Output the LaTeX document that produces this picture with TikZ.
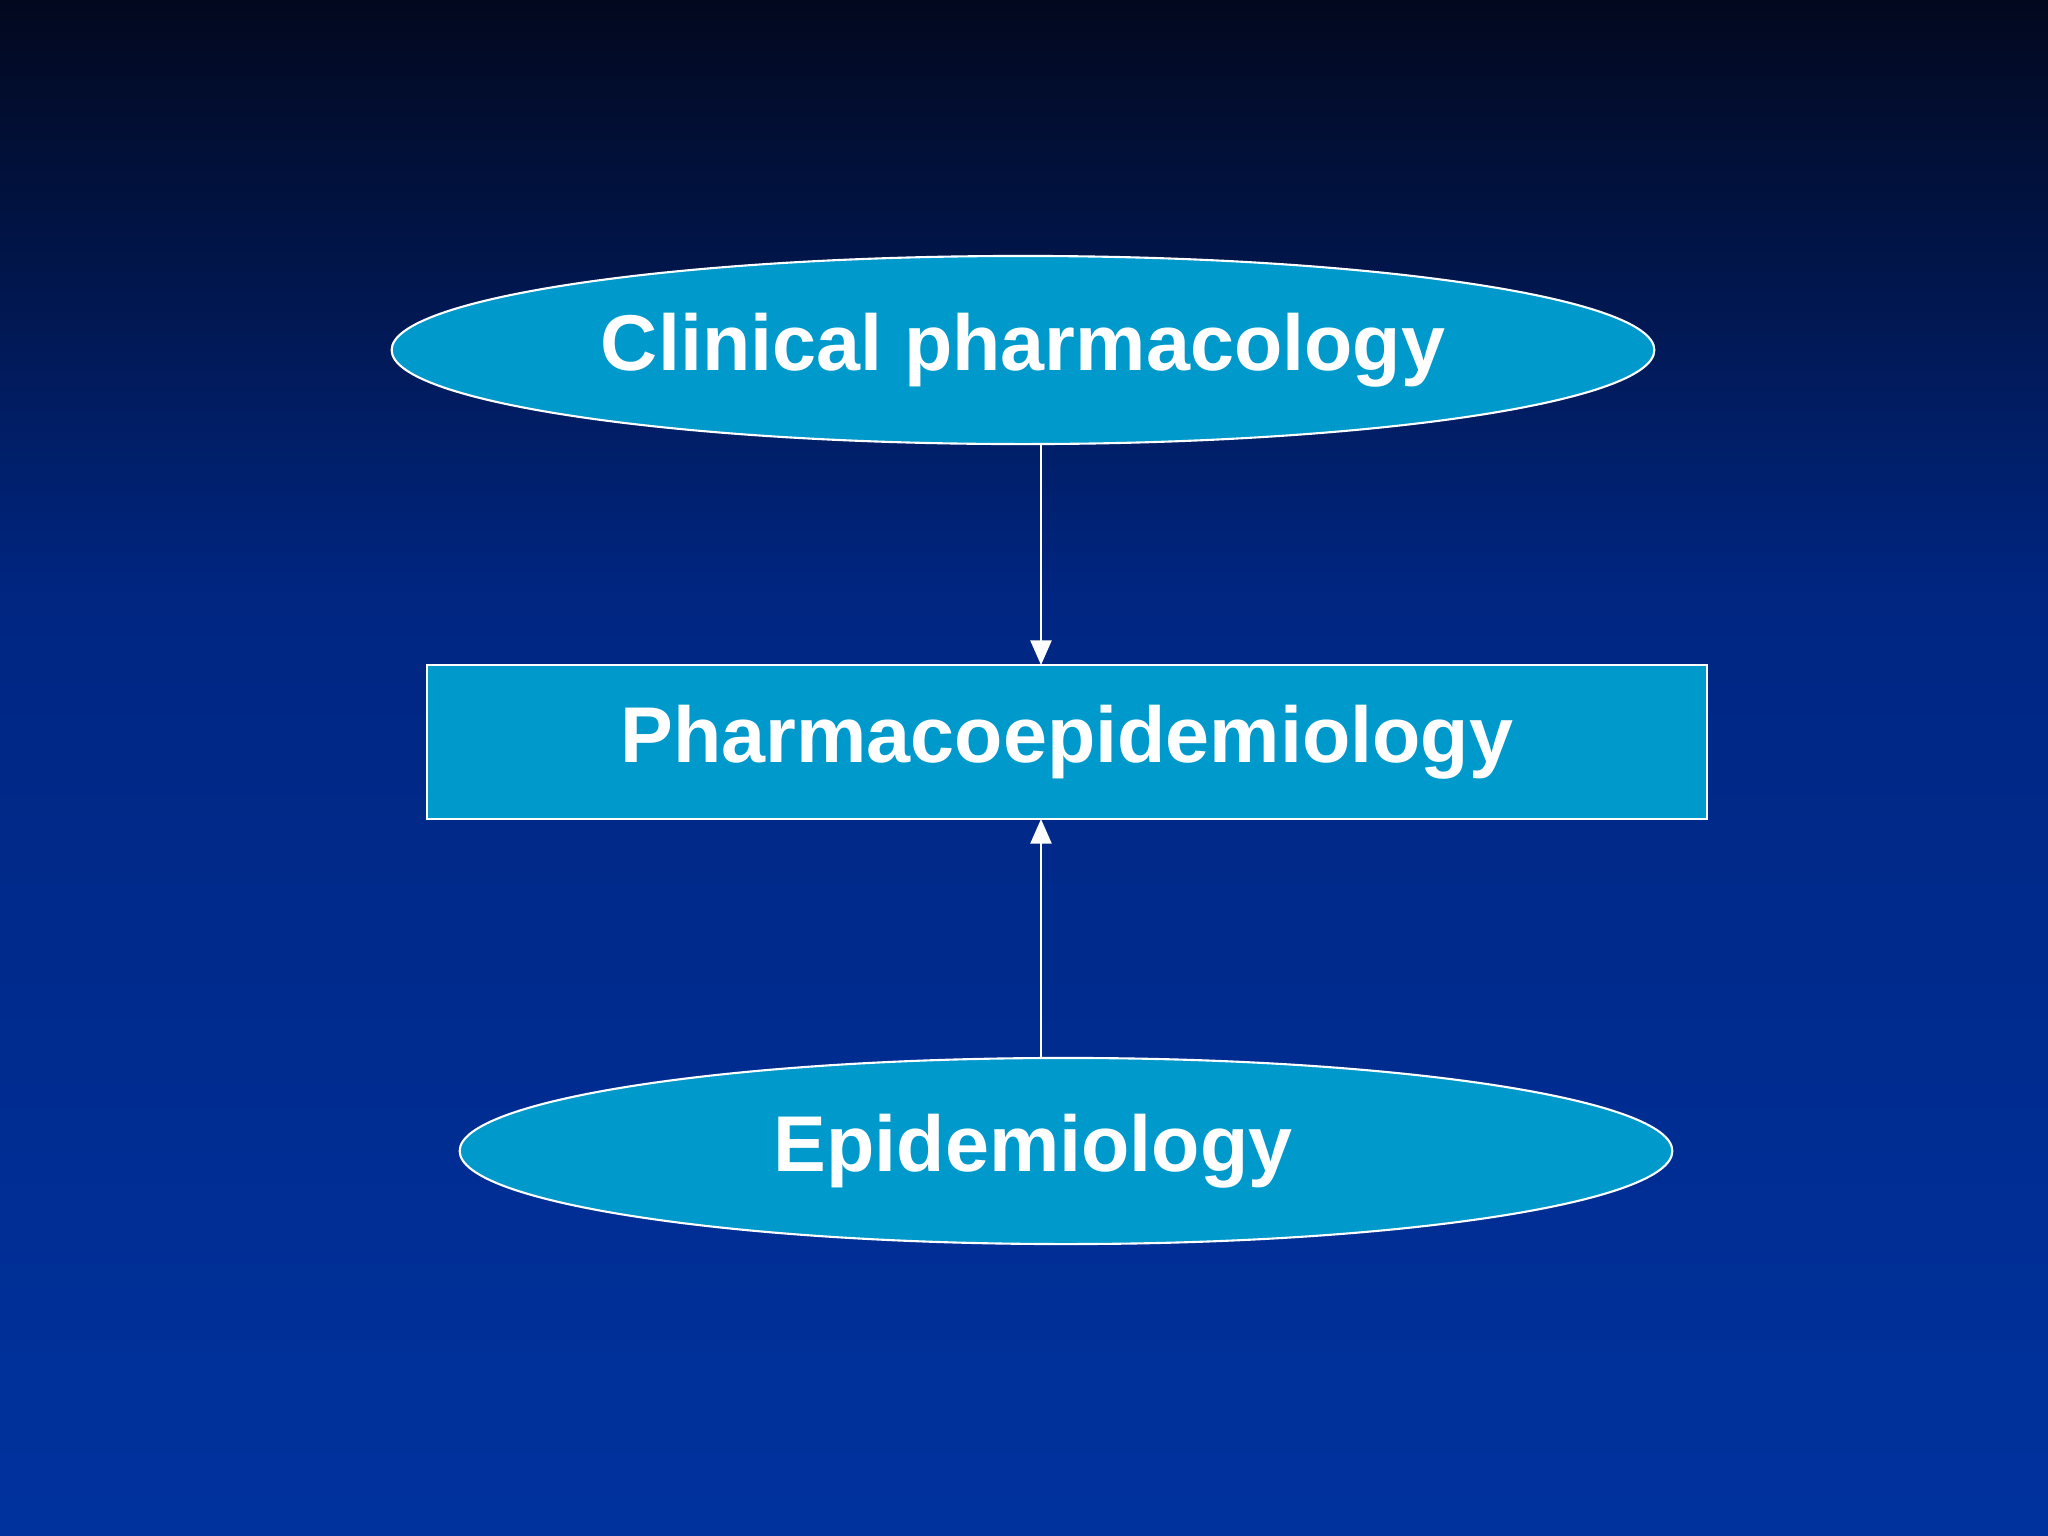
\documentclass[tikz,border=0pt]{standalone}
\usepackage{fontspec}
\setmainfont{Liberation Sans}
\usetikzlibrary{shapes.geometric,arrows.meta}
\definecolor{boxfill}{RGB}{0,153,204}
\definecolor{bgtop}{RGB}{2,8,30}
\definecolor{bgmid}{RGB}{0,38,130}
\definecolor{bgbot}{RGB}{0,50,158}
\tikzset{
  lbl/.style={font=\fontsize{22.5pt}{27pt}\selectfont\bfseries, text=white},
  ell/.style={ellipse, draw=white, line width=0.6pt, fill=boxfill, inner sep=0pt},
  conn/.style={draw=white, line width=0.6pt, -{Triangle[length=7pt,width=6pt]}}
}
\begin{document}
\begin{tikzpicture}[x=0.01cm,y=-0.01cm]
\useasboundingbox (0,0) rectangle (2048,1536);
\shade[top color=bgtop, bottom color=bgmid] (0,0) rectangle (2048,600);
\shade[top color=bgmid, bottom color=bgbot] (0,599) rectangle (2048,1536);
\node[ell, minimum width=1262\pgflinewidth*0+12.62cm, minimum height=1.88cm] (cp) at (1023,350) {};
\node[lbl] at (cp.center) {Clinical pharmacology};
\node[draw=white, line width=0.6pt, fill=boxfill, minimum width=12.8cm, minimum height=1.54cm, inner sep=0pt] (pe) at (1067,742) {};
\node[lbl] at (pe.center) {Pharmacoepidemiology};
\node[ell, minimum width=12.12cm, minimum height=1.86cm] (ep) at (1066,1151) {};
\node[lbl] at (1033,1151) {Epidemiology};
\coordinate (a1) at (1041,444);
\coordinate (a2) at (1041,665);
\coordinate (b1) at (1041,1058);
\coordinate (b2) at (1041,819);
\draw[conn] (a1) -- (a2);
\draw[conn] (b1) -- (b2);
\end{tikzpicture}
\end{document}
